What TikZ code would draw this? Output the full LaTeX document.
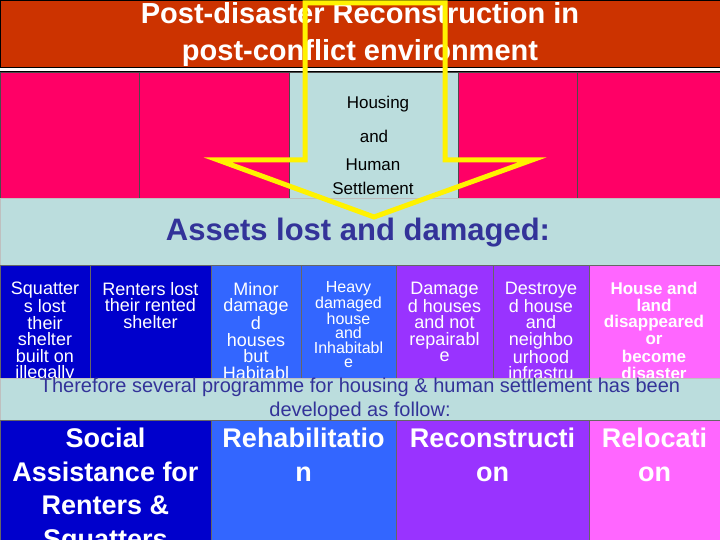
\documentclass[tikz,border=0pt]{standalone}
\usepackage{fontspec}
\setmainfont{Liberation Sans}
\definecolor{titlered}{HTML}{CC3300}
\definecolor{hotpink}{HTML}{FF0066}
\definecolor{lblue}{HTML}{BBDDDD}
\definecolor{navy}{HTML}{0000CC}
\definecolor{mblue}{HTML}{3366FF}
\definecolor{purp}{HTML}{9933FF}
\definecolor{lpink}{HTML}{FF66FF}
\definecolor{txtblue}{HTML}{333399}
\tikzset{
 celltext/.style={anchor=north,align=center,text=white,font=\fontsize{18}{16.5}\selectfont,inner sep=0pt},
 progtext/.style={anchor=north,align=center,text=white,font=\bfseries\fontsize{27}{33.5}\selectfont,inner sep=0pt},
 houselbl/.style={font=\fontsize{17}{20}\selectfont,inner sep=0pt}
}
\newcommand{\mycell}[7]{%
 \begin{scope}
 \clip (#2,#4) rectangle (#3,#5);
 \fill[#6] (#2,#4) rectangle (#3,#5);
 \draw[black!60,line width=0.6pt] (#2,#4) rectangle (#3,#5);
 \node[celltext] (#1) at ({(#2+#3)/2},282) {#7};
 \end{scope}}
\newcommand{\myprog}[7]{%
 \begin{scope}
 \clip (#2,#4) rectangle (#3,#5);
 \fill[#6] (#2,#4) rectangle (#3,#5);
 \draw[black!60,line width=0.6pt] (#2,#4) rectangle (#3,#5);
 \node[progtext] (#1) at ({(#2+#3)/2},428) {#7};
 \end{scope}}
\begin{document}
\begin{tikzpicture}[x=1pt,y=-1pt]
\useasboundingbox (0,0) rectangle (720,540);
\fill[white] (0,0) rectangle (720,540);
% title
\fill[titlered] (0,0) rectangle (720,67);
\draw[black,line width=0.6pt] (0,0) rectangle (720,67);
\node[text=white,font=\bfseries\fontsize{29}{37}\selectfont,align=center,inner sep=0pt] (title) at (360,35) {Post-disaster Reconstruction in\\post-conflict environment};
% pink row
\foreach \a/\b/\c in {0/139/hotpink,139/289/hotpink,289/458/lblue,458/577/hotpink,577/720/hotpink}{
 \fill[\c] (\a,72) rectangle (\b,198);
 \draw[black!70,line width=0.6pt] (\a,72) rectangle (\b,198);}
\draw[black,line width=1pt] (0,72) -- (720,72);
\node[houselbl] (h1) at (378,104) {Housing};
\node[houselbl] (h2) at (374,136) {and};
\node[houselbl] (h3) at (373,165) {Human};
\node[houselbl] (h4) at (373,188) {Settlement};
% assets band
\fill[lblue] (0,198) rectangle (720,265);
\draw[black!25,line width=0.5pt] (0,198) rectangle (720,265);
\node[text=txtblue,font=\bfseries\fontsize{31}{34}\selectfont] (assets) at (358,233) {Assets lost and damaged:};
% cells
\mycell{c1}{0}{90}{265}{378}{navy}{Squatter\\s lost\\their\\shelter\\built on\\illegally}
\mycell{c2}{90}{211}{265}{378}{navy}{Renters lost\\their rented\\shelter}
\mycell{c3}{211}{301}{265}{378}{mblue}{Minor\\damage\\d\\houses\\but\\Habitabl}
\mycell{c5}{396}{493}{265}{378}{purp}{Damage\\d houses\\and not\\repairabl\\e}
\mycell{c6}{493}{589}{265}{378}{purp}{Destroye\\d house\\and\\neighbo\\urhood\\infrastru}
\begin{scope}
 \clip (301,265) rectangle (396,378);
 \fill[mblue] (301,265) rectangle (396,378);
 \draw[black!60,line width=0.6pt] (301,265) rectangle (396,378);
 \node[celltext,font=\fontsize{16}{14.5}\selectfont] (c4) at (348.5,281) {Heavy\\damaged\\house\\and\\Inhabitabl\\e};
\end{scope}
\begin{scope}
 \clip (589,265) rectangle (720,378);
 \fill[lpink] (589,265) rectangle (720,378);
 \draw[black!60,line width=0.6pt] (589,265) rectangle (720,378);
 \node[celltext,font=\bfseries\fontsize{17}{16.5}\selectfont] (c7) at (654,282) {House and\\land\\disappeared\\or\\[2pt]become\\disaster};
\end{scope}
% therefore band
\fill[lblue] (0,378) rectangle (720,420);
\draw[black!25,line width=0.5pt] (0,378) rectangle (720,420);
\node[text=txtblue,font=\fontsize{20}{24}\selectfont,align=center] (therefore) at (360,399) {Therefore several programme for housing \& human settlement has been\\developed as follow:};
% programmes
\myprog{p1}{0}{211}{420}{540}{navy}{Social\\Assistance for\\Renters \&\\Squatters}
\myprog{p2}{211}{396}{420}{540}{mblue}{Rehabilitatio\\n}
\myprog{p3}{396}{589}{420}{540}{purp}{Reconstructi\\on}
\myprog{p4}{589}{720}{420}{540}{lpink}{Relocati\\on}
% arrow
\draw[yellow,line width=5pt,line join=miter] (305,3) -- (445,3) -- (445,160) -- (532,160) -- (374,217) -- (218,160) -- (305,160) -- cycle;
\end{tikzpicture}
\end{document}
